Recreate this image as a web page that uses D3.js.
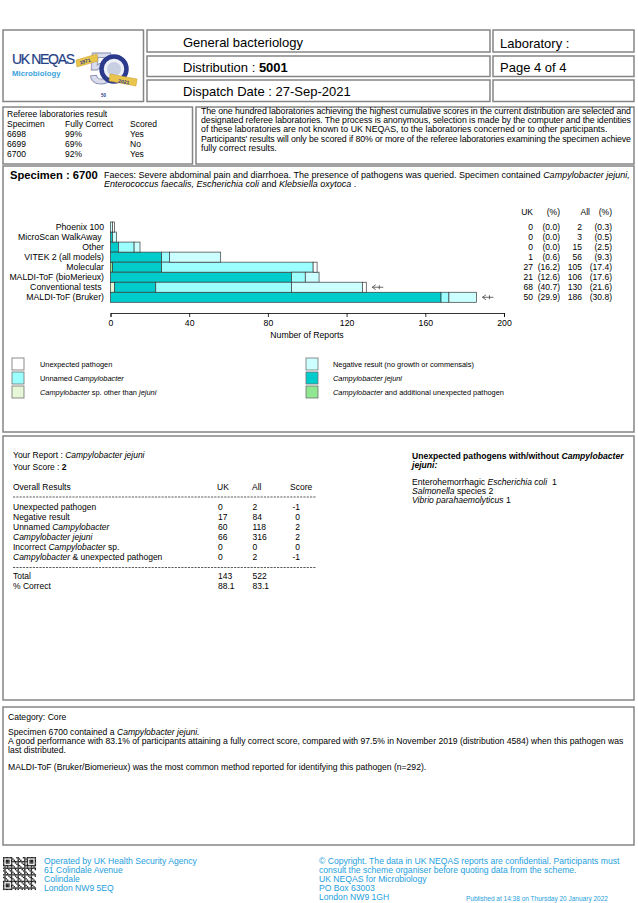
<!DOCTYPE html>
<html><head><meta charset="utf-8">
<script src="https://cdn.jsdelivr.net/npm/d3@7/dist/d3.min.js"></script>
<style>
body{margin:0;background:#fff}
svg{display:block;font-family:"Liberation Sans",Arial,Helvetica,sans-serif}
</style>
</head><body>
<svg id="c" width="638" height="903"></svg>
<script>
// ---------- DATA ----------
const methods = ["Phoenix 100","MicroScan WalkAway\u00a0","Other","VITEK 2 (all models)","Molecular","MALDI-ToF (bioMerieux)","Conventional tests\u00a0","MALDI-ToF (Bruker)"];
const campyUnexpected = [0,0,0,0,1,0,0,0];
const otherSp        = [0,0,0,0,0,0,2,0];
const jejuni         = [0,1,4,26,25,92,21,168];
const unnamed        = [0,0,8,4,77,7,69,4];
const negative       = [1,2,3,26,0,7,36,14];
const unexpected     = [1,0,0,0,2,0,2,0];
const ukCounts  = [0,0,0,1,27,21,68,50];
const ukPct     = ["0.0","0.0","0.0","0.6","16.2","12.6","40.7","29.9"];
const allCounts = [2,3,15,56,105,106,130,186];
const allPct    = ["0.3","0.5","2.5","9.3","17.4","17.6","21.6","30.8"];
const flagged   = [false,false,false,false,false,false,true,true];
const xTicks    = [0,40,80,120,160,200];

const seriesKeys   = ["campyUnexpected","otherSp","jejuni","unnamed","negative","unexpected"];
const seriesColors = ["#8fe88f","#e6f7d8","#00cccc","#9cffff","#ccffff","#ffffff"];

const overallLabels = [[["Unexpected pathogen",""]],[["Negative result",""]],[["Unnamed ",""],["Campylobacter","i"]],[["Campylobacter jejuni","i"]],[["Incorrect ",""],["Campylobacter","i"],[" sp.",""]],[["Campylobacter","i"],[" & unexpected pathogen",""]]];
const overallUK    = [0,17,60,66,0,0];
const overallAll   = [2,84,118,316,0,2];
const overallScore = [-1,0,2,2,0,-1];
const totals       = {uk:143, all:522};
const pctCorrect   = {uk:"88.1", all:"83.1"};

// ---------- HELPERS ----------
const svg = d3.select("#c");
const FS = '"Liberation Sans",Arial,sans-serif';
function box(x,y,w,h){
  svg.append("rect").attr("x",x).attr("y",y).attr("width",w).attr("height",h)
    .attr("fill","none").attr("stroke","#858585").attr("stroke-width",1.5);
}
function rich(parent,x,y,parts,size,opts={}){
  const t = parent.append("text").attr("x",x).attr("y",y).attr("font-size",size)
    .attr("fill",opts.fill||"#000").attr("text-anchor",opts.anchor||"start");
  if(opts.weight) t.attr("font-weight",opts.weight);
  if(opts.len) t.attr("textLength",opts.len).attr("lengthAdjust","spacing");
  t.style("white-space","pre");
  parts.forEach(p=>{
    const s=t.append("tspan").text(p[0]);
    if(p[1].includes("i")) s.attr("font-style","italic");
    if(p[1].includes("b")) s.attr("font-weight","bold");
  });
  return t;
}
function txt(x,y,s,size,opts={}){ return rich(svg,x,y,[[s,opts.st||""]],size,opts); }

// ---------- HEADER ----------
box(3,30,140.5,71.5);
box(147,30,343,22); box(147,56,343,20.5); box(147,80,343,21.5);
box(493,30,141,22); box(493,56,141,20.5); box(493,80,141,21.5);
txt(183,46.5,"General bacteriology",13);
rich(svg,183,71.5,[["Distribution : ",""],["5001","b"]],13);
txt(183,96,"Dispatch Date : 27-Sep-2021",13);
txt(500,47.5,"Laboratory :",13);
txt(500,72,"Page 4 of 4",13);

// logo
txt(12,63.5,"UK NEQAS",14,{fill:"#263f86",len:63}).attr("stroke","#263f86").attr("stroke-width",0.2);
txt(12,76,"Microbiology",7.8,{fill:"#3ba3dc",weight:"bold"});
const lg = svg.append("g");
lg.append("text").attr("x",89).attr("y",84).attr("font-size",44).attr("font-weight","bold")
  .attr("fill","#d9ddec").attr("stroke","#8e96b8").attr("stroke-width",0.9).text("5");
lg.append("circle").attr("cx",114).attr("cy",69).attr("r",12.5).attr("fill","#eef0f7").attr("stroke","#2b3a8c").attr("stroke-width",4.5);
lg.append("circle").attr("cx",114).attr("cy",69).attr("r",7).attr("fill","#c9cfe3");
lg.append("polygon").attr("points","76,60 97,54 98,61 77,67").attr("fill","#e9c54d").attr("stroke","#c89b25").attr("stroke-width",0.5);
lg.append("text").attr("x",80).attr("y",64.5).attr("font-size",5).attr("font-weight","bold").attr("fill","#2b3a8c")
  .attr("transform","rotate(-15,80,64)").text("1971");
lg.append("polygon").attr("points","110,74 137,79 136,86 109,81").attr("fill","#e9c54d").attr("stroke","#c89b25").attr("stroke-width",0.5);
lg.append("text").attr("x",118).attr("y",82.5).attr("font-size",5).attr("font-weight","bold").attr("fill","#2b3a8c")
  .attr("transform","rotate(10,118,82)").text("2021");
lg.append("text").attr("x",101).attr("y",97).attr("font-size",4.5).attr("font-weight","bold").attr("fill","#2b3a8c").text("50");

// referee box
box(3,107,189.5,57);
txt(7,116.5,"Referee laboratories result",8.5);
[["Specimen","Fully Correct","Scored"],["6698","99%","Yes"],["6699","69%","No"],["6700","92%","Yes"]].forEach((r,i)=>{
  const y=127+i*10;
  txt(7,y,r[0],8.5); txt(65,y,r[1],8.5); txt(130,y,r[2],8.5);
});
box(196,107,438,57);
const tbLines = ["The one hundred laboratories achieving the highest cumulative scores in the current distribution are selected and",
 "designated referee laboratories. The process is anonymous, selection is made by the computer and the identities",
 "of these laboratories are not known to UK NEQAS, to the laboratories concerned or to other participants.",
 "Participants' results will only be scored if 80% or more of the referee laboratories examining the specimen achieve",
 "fully correct results."];
tbLines.forEach((l,i)=>{
  rich(svg,201,114+i*9.2,[[l,""]],8.8,(i<2||i===3)?{len:430}:{});
});

// ---------- SPECIMEN BOX ----------
box(3,166,631,266);
txt(10,179,"Specimen : 6700",11.2,{weight:"bold"});
rich(svg,104,178,[["Faeces: Severe abdominal pain and diarrhoea. The presence of pathogens was queried. Specimen contained ",""],["Campylobacter jejuni,","i"]],9);
rich(svg,104,187,[["Enterococcus faecalis, Escherichia coli","i"],[" and ",""],["Klebsiella oxytoca","i"],[" .",""]],9);

// chart
const x = d3.scaleLinear().domain([0,200]).range([110.5,504]);
const y = d3.scaleBand().domain(methods).range([222,302.3]).padding(0);
const rows = methods.map((m,i)=>({method:m,campyUnexpected:campyUnexpected[i],otherSp:otherSp[i],jejuni:jejuni[i],unnamed:unnamed[i],negative:negative[i],unexpected:unexpected[i]}));
const stacked = d3.stack().keys(seriesKeys)(rows);
const cg = svg.append("g");
stacked.forEach((s,k)=>{
  cg.selectAll(null).data(s.filter(d=>d[1]-d[0]>0)).join("rect")
    .attr("x",d=>x(d[0])).attr("width",d=>x(d[1])-x(d[0]))
    .attr("y",d=>y(d.data.method)).attr("height",y.bandwidth())
    .attr("fill",seriesColors[k]).attr("stroke","#3a3a3a").attr("stroke-width",0.7);
});
// category labels
methods.forEach(m=>{
  txt(104,y(m)+y.bandwidth()/2+3.1,m,8.7,{anchor:"end"});
});
// arrows
methods.forEach((m,i)=>{
  if(!flagged[i]) return;
  const x0=x(allCounts[i])+6, yc=y(m)+y.bandwidth()/2;
  cg.append("path").attr("d",`M${x0+3.5},${yc-2.5}L${x0},${yc}L${x0+3.5},${yc+2.5}M${x0},${yc}H${x0+11}M${x0+7},${yc-2}V${yc+2}`)
    .attr("fill","none").attr("stroke","#444").attr("stroke-width",0.8);
});
// axis
const ax = svg.append("g").attr("transform","translate(0,313)")
  .call(d3.axisBottom(x).tickValues(xTicks).tickSize(4).tickSizeOuter(4).tickPadding(3));
ax.selectAll("text").attr("font-size",8.7).attr("font-family",FS).attr("fill","#000");
ax.selectAll("line,path").attr("stroke","#000").attr("stroke-width",0.8);
txt(307,338,"Number of Reports",8.7,{anchor:"middle"});

// right table
const hy=215;
txt(533,hy,"UK",8.5,{anchor:"end"}); txt(560,hy,"(%)",8.5,{anchor:"end"});
txt(590,hy,"All",8.5,{anchor:"end"}); txt(612,hy,"(%)",8.5,{anchor:"end"});
methods.forEach((m,i)=>{
  const yy=y(m)+y.bandwidth()/2+3;
  txt(533,yy,String(ukCounts[i]),8.5,{anchor:"end"});
  txt(560,yy,"("+ukPct[i]+")",8.5,{anchor:"end"});
  txt(582,yy,String(allCounts[i]),8.5,{anchor:"end"});
  txt(612,yy,"("+allPct[i]+")",8.5,{anchor:"end"});
});

// legend
const legItems = [
  {c:5,x:12,tx:40,row:0,parts:[["Unexpected pathogen",""]]},
  {c:3,x:12,tx:40,row:1,parts:[["Unnamed ",""],["Campylobacter","i"]]},
  {c:1,x:12,tx:40,row:2,parts:[["Campylobacter","i"],[" sp. other than ",""],["jejuni","i"]]},
  {c:4,x:306,tx:333,row:0,parts:[["Negative result (no growth or commensals)",""]]},
  {c:2,x:306,tx:333,row:1,parts:[["Campylobacter jejuni","i"]]},
  {c:0,x:306,tx:333,row:2,parts:[["Campylobacter","i"],[" and additional unexpected pathogen",""]]}
];
legItems.forEach(d=>{
  const yy=358+d.row*14;
  svg.append("rect").attr("x",d.x).attr("y",yy).attr("width",12).attr("height",12)
    .attr("fill",seriesColors[d.c]).attr("stroke","#707070").attr("stroke-width",0.8);
  rich(svg,d.tx,yy+8.5,d.parts,7.4);
});

// ---------- REPORT BOX ----------
box(3,436,631,264);
rich(svg,13,457.5,[["Your Report : ",""],["Campylobacter jejuni","i"]],8.5);
rich(svg,13,469.5,[["Your Score : ",""],["2","b"]],8.5);
txt(13,489.5,"Overall Results",8.5);
txt(217,489.5,"UK",8.5); txt(252,489.5,"All",8.5); txt(290,489.5,"Score",8.5);
function dash(yy){svg.append("line").attr("x1",13).attr("x2",316).attr("y1",yy).attr("y2",yy)
  .attr("stroke","#333").attr("stroke-width",0.8).attr("stroke-dasharray","2.2,1.1");}
dash(497); dash(567.5);
overallLabels.forEach((p,i)=>{
  const yy=509.5+i*10;
  rich(svg,13,yy,p,8.5);
  txt(218,yy,String(overallUK[i]),8.5);
  txt(252.5,yy,String(overallAll[i]),8.5);
  txt(300,yy,String(overallScore[i]),8.5,{anchor:"end"});
});
txt(13,578.5,"Total",8.5); txt(218,578.5,String(totals.uk),8.5); txt(252.5,578.5,String(totals.all),8.5);
txt(13,588.5,"% Correct",8.5); txt(218,588.5,pctCorrect.uk,8.5); txt(252.5,588.5,pctCorrect.all,8.5);

rich(svg,412,458.5,[["Unexpected pathogens with/without ",""],["Campylobacter","i"]],8.6,{weight:"bold"});
rich(svg,412,467.5,[["jejuni:","i"]],8.6,{weight:"bold"});
rich(svg,412,485,[["Enterohemorrhagic ",""],["Escherichia coli","i"],["  1",""]],8.6);
rich(svg,412,494,[["Salmonella","i"],[" species 2",""]],8.6);
rich(svg,412,502.5,[["Vibrio parahaemolyticus","i"],[" 1",""]],8.6);

// ---------- CATEGORY BOX ----------
box(3,707,631,138);
txt(8,719.5,"Category: Core",8.6);
rich(svg,8,735,[["Specimen 6700 contained a ",""],["Campylobacter jejuni.","i"]],8.6);
txt(8,744,"A good performance with 83.1% of participants attaining a fully correct score, compared with 97.5% in November 2019 (distribution 4584) when this pathogen was",8.6);
txt(8,753,"last distributed.",8.6);
txt(8,770,"MALDI-ToF (Bruker/Biomerieux) was the most common method reported for identifying this pathogen (n=292).",8.6);

// ---------- FOOTER ----------
const blue="#1ea0dd";
["Operated by UK Health Security Agency","61 Colindale Avenue","Colindale","London NW9 5EQ"].forEach((l,i)=>txt(44,864+i*9,l,8.6,{fill:blue}));
["\u00a9 Copyright. The data in UK NEQAS reports are confidential. Participants must","consult the scheme organiser before quoting data from the scheme.","UK NEQAS for Microbiology","PO Box 63003","London NW9 1GH"].forEach((l,i)=>txt(319,864+i*9,l,8.6,{fill:blue}));
txt(466,900.5,"Published at 14:38 on Thursday 20 January 2022",6.5,{fill:blue});

// QR-like mark (decorative)
const qr=svg.append("g").attr("transform","translate(3,857)");
const n=25, m=33/25;
for(let i=0;i<n;i++)for(let j=0;j<n;j++){
  const inF=(a,b)=>a<7&&b<7;
  let on;
  const fi=[[0,0],[0,n-7],[n-7,0]].find(([a,b])=>inF(i-a,j-b)&&i-a>=0&&j-b>=0);
  if(fi){const a=i-fi[0],b=j-fi[1];on=(a===0||a===6||b===0||b===6)||(a>=2&&a<=4&&b>=2&&b<=4);}
  else on=((i*7+j*11+i*j*3)%5)<2;
  if(on) qr.append("rect").attr("x",j*m).attr("y",i*m).attr("width",m+0.05).attr("height",m+0.05).attr("fill","#222");
}
</script>
</body></html>
